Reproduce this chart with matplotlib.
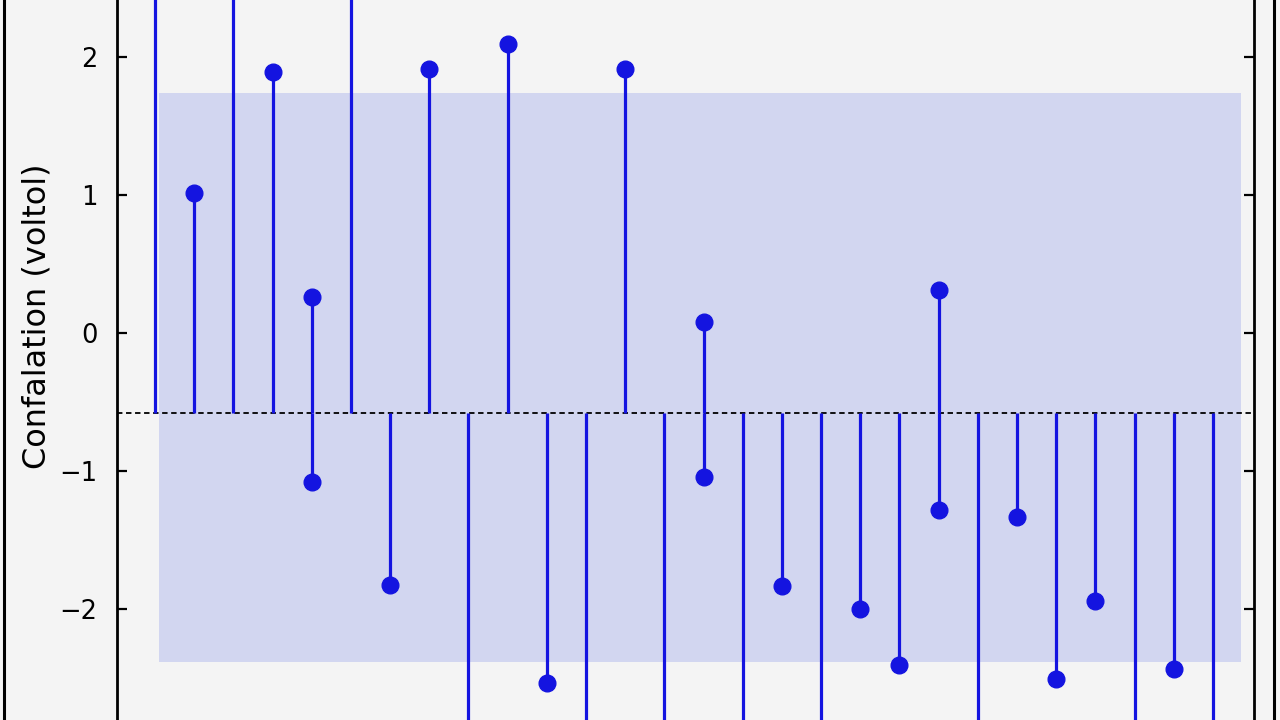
import matplotlib
matplotlib.use("Agg")
import matplotlib.pyplot as plt
from matplotlib.lines import Line2D
import numpy as np

# stem values (stems past the plot edges are estimates)
values = [2.9, 1.01, 2.9, 1.89, 0.26, 2.9, -1.82, 1.91, -3.1, 2.09,
          -2.53, -3.1, 1.91, -3.1, 0.08, -3.1, -1.83, -3.1, -2.00, -2.40,
          0.31, -3.1, -1.33, -2.50, -1.94, -3.1, -2.43, -3.1]
# stems that carry a second marker below the baseline
extra_idx = [4, 14, 20]
extra_vals = [-1.08, -1.04, -1.28]

baseline = -0.58
band_lo, band_hi = -2.38, 1.74
yticks = [-2, -1, 0, 1, 2]
ylabel = "Confalation (voltol)"

blue = "#1414e0"
bg = "#f4f4f4"

x = np.arange(len(values))

fig = plt.figure(figsize=(12.8, 7.2), dpi=100, facecolor=bg)
ax = fig.add_axes([117/1280, 0, 1137/1280, 1])
ax.set_facecolor(bg)

ax.fill_between([0.10, 27.71], band_lo, band_hi, color="#d2d6f0", lw=0, zorder=0)
ax.axhline(baseline, color="black", ls=(0, (3, 2)), lw=1.3, zorder=1)

for xs, ys in [(x, values), (extra_idx, extra_vals)]:
    ml, sl, bl = ax.stem(xs, ys, bottom=baseline)
    plt.setp(sl, color=blue, lw=2.3)
    plt.setp(ml, color=blue, markersize=12)
    bl.set_visible(False)

ax.set_xlim(-0.97, 28.05)
ax.set_ylim(-2.80, 2.41)
ax.set_xticks([])
ax.set_yticks(yticks)
ax.set_yticklabels([str(t).replace("-", "\u2212") for t in yticks])
ax.tick_params(axis="y", direction="in", length=7, width=1.6, labelsize=18.5,
               pad=14, right=True)
for s in ["top", "bottom"]:
    ax.spines[s].set_visible(False)
for s in ["left", "right"]:
    ax.spines[s].set_linewidth(2)

ax.set_ylabel(ylabel, fontsize=23)
ax.yaxis.set_label_coords(-0.057, 0.561)

# outer frame edges
fig.add_artist(Line2D([4/1280, 4/1280], [0, 1], color="black", lw=2.2))
fig.add_artist(Line2D([1274/1280, 1274/1280], [0, 1], color="black", lw=2.2))

fig.savefig("out.png", dpi=100, facecolor=bg)
